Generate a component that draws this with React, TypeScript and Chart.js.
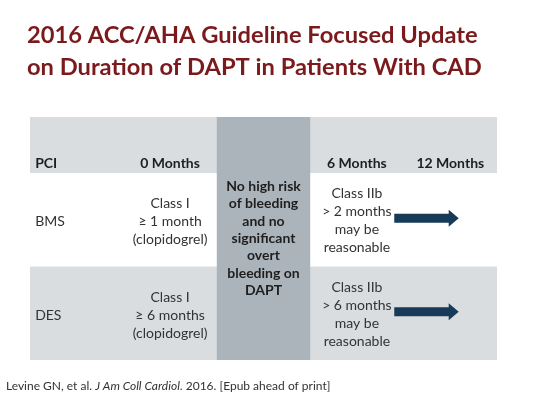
import { useEffect, useRef } from "react";
import { Chart, registerables } from "chart.js";

Chart.register(...registerables);

// ---- content ----
const titleLines = [
  "2016 ACC/AHA Guideline Focused Update",
  "on Duration of DAPT in Patients With CAD",
];
const headerLabels = ["PCI", "0 Months", "6 Months", "12 Months"];
const stentTypes = ["BMS", "DES"];
const initialDapt = [
  ["Class I", "≥ 1 month", "(clopidogrel)"],
  ["Class I", "≥ 6 months", "(clopidogrel)"],
];
const extendedDapt = [
  ["Class IIb", "> 2 months", "may be", "reasonable"],
  ["Class IIb", "> 6 months", "may be", "reasonable"],
];
const criteriaLines = [
  "No high risk",
  "of bleeding",
  "and no",
  "significant",
  "overt",
  "bleeding on",
  "DAPT",
];
const citationParts = [
  { text: "Levine GN, et al. ", italic: false },
  { text: "J Am Coll Cardiol", italic: true },
  { text: ". 2016. [Epub ahead of print]", italic: false },
];

// ---- layout (scale units: x = table columns, y = table rows) ----
const COL_COUNT = 5;
const HEADER_COLS = [0, 1, 3, 4];
const CRITERIA_COL = 2;
const INITIAL_COL = 1;
const EXTENDED_COL = 3;
const ROW_EDGES = [0, 0.6, 1.6, 2.6];
const HEADER_TEXT_Y = 0.5;
const LABEL_X = 0.055;
const ARROW_FROM = 3.9;
const ARROW_TO = 4.59;

const FONT = "Lato";
const LIGHT = "#d9dde0";
const DARK = "#acb4bb";
const ARROW = "#173a58";
const TEXT = "#333333";
const HEAD = "#1e1e1e";

const tablePlugin = {
  id: "dapttable",
  beforeDraw(chart: any) {
    const { ctx, width, height } = chart;
    ctx.save();
    ctx.fillStyle = "#ffffff";
    ctx.fillRect(0, 0, width, height);
    ctx.restore();
  },
  beforeDatasetsDraw(chart: any) {
    const { ctx } = chart;
    const x = chart.scales.x;
    const y = chart.scales.y;
    const px = (v: number) => x.getPixelForValue(v);
    const py = (v: number) => y.getPixelForValue(v);
    const rect = (x0: number, x1: number, y0: number, y1: number, c: string) => {
      ctx.fillStyle = c;
      ctx.fillRect(px(x0), py(y0), px(x1) - px(x0), py(y1) - py(y0));
    };
    ctx.save();
    // rows
    const rowColors = [LIGHT, "#ffffff", LIGHT];
    for (let r = 0; r < 3; r++) {
      rect(0, COL_COUNT, ROW_EDGES[r], ROW_EDGES[r + 1], rowColors[r]);
    }
    // criteria column
    rect(CRITERIA_COL, CRITERIA_COL + 1, ROW_EDGES[0], ROW_EDGES[3], DARK);

    const lines = (arr: string[], cx: number, cy: number, lh: number) => {
      const n = arr.length;
      arr.forEach((t, i) => {
        ctx.fillText(t, cx, cy + (i - (n - 1) / 2) * lh);
      });
    };

    ctx.textBaseline = "middle";
    // header
    ctx.font = `bold 14px ${FONT}`;
    ctx.fillStyle = HEAD;
    headerLabels.forEach((lab, i) => {
      const c = HEADER_COLS[i];
      if (c === 0) {
        ctx.textAlign = "left";
        ctx.fillText(lab, px(LABEL_X), py(HEADER_TEXT_Y));
      } else {
        ctx.textAlign = "center";
        ctx.fillText(lab, px(c + 0.5), py(HEADER_TEXT_Y));
      }
    });

    // body rows
    ctx.font = `14px ${FONT}`;
    ctx.fillStyle = TEXT;
    stentTypes.forEach((s, i) => {
      const cy = py((ROW_EDGES[i + 1] + ROW_EDGES[i + 2]) / 2);
      ctx.textAlign = "left";
      ctx.fillText(s, px(LABEL_X), cy + 2);
      ctx.textAlign = "center";
      lines(initialDapt[i], px(INITIAL_COL + 0.5), cy + 2, 18);
      lines(extendedDapt[i], px(EXTENDED_COL + 0.5), cy + 1, 18);
      // arrow
      const ay = cy - 1.5;
      const x0 = px(ARROW_FROM);
      const x1 = px(ARROW_TO);
      const head = 10;
      ctx.fillStyle = ARROW;
      ctx.beginPath();
      ctx.moveTo(x0, ay - 4.5);
      ctx.lineTo(x1 - head, ay - 4.5);
      ctx.lineTo(x1 - head, ay - 8.5);
      ctx.lineTo(x1, ay);
      ctx.lineTo(x1 - head, ay + 8.5);
      ctx.lineTo(x1 - head, ay + 4.5);
      ctx.lineTo(x0, ay + 4.5);
      ctx.closePath();
      ctx.fill();
      ctx.fillStyle = TEXT;
    });

    // criteria
    ctx.font = `bold 14px ${FONT}`;
    ctx.fillStyle = HEAD;
    ctx.textAlign = "center";
    lines(criteriaLines, px(CRITERIA_COL + 0.5), py((ROW_EDGES[0] + ROW_EDGES[3]) / 2), 17.4);
    ctx.restore();
  },
  afterDraw(chart: any) {
    const { ctx } = chart;
    ctx.save();
    ctx.textBaseline = "middle";
    ctx.textAlign = "left";
    ctx.fillStyle = TEXT;
    let cx = 6;
    citationParts.forEach((p) => {
      ctx.font = `${p.italic ? "italic " : ""}12px ${FONT}`;
      ctx.fillText(p.text, cx, 386);
      cx += ctx.measureText(p.text).width;
    });
    ctx.restore();
  },
};

export default function App() {
  const ref = useRef<HTMLCanvasElement | null>(null);
  useEffect(() => {
    if (!ref.current) return;
    const chart = new Chart(ref.current, {
      type: "bar",
      data: { labels: [], datasets: [] },
      options: {
        animation: false,
        responsive: true,
        maintainAspectRatio: false,
        layout: { padding: { left: 27, right: 43, top: 0, bottom: 45 } },
        scales: {
          x: { type: "linear", display: false, offset: false, min: 0, max: COL_COUNT },
          y: {
            type: "linear",
            display: true,
            reverse: true,
            offset: false,
            min: ROW_EDGES[0],
            max: ROW_EDGES[3],
            ticks: { display: false },
            grid: { display: false },
            border: { display: false },
            afterFit: (s: any) => {
              s.width = 3;
            },
          },
        },
        plugins: {
          legend: { display: false },
          tooltip: { enabled: false },
          title: {
            display: true,
            text: titleLines,
            align: "start",
            color: "#7b1a1d",
            font: { family: FONT, size: 23.7, weight: "bold", lineHeight: 32 / 23.7 },
            padding: { top: 19, bottom: 34 },
          },
        },
      },
      plugins: [tablePlugin],
    } as any);
    return () => chart.destroy();
  }, []);
  return (
    <div style={{ position: "fixed", left: 0, top: 0, width: 540, height: 405, background: "#fff" }}>
      <canvas ref={ref} />
    </div>
  );
}
